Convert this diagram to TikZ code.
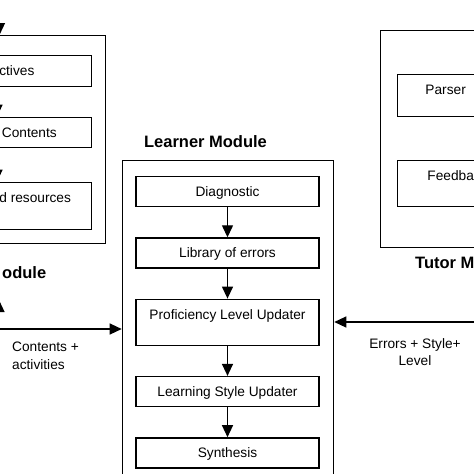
\documentclass[tikz,border=0pt]{standalone}
\usepackage{fontspec}
\setmainfont{Liberation Sans}
\usetikzlibrary{positioning,arrows.meta}

\tikzset{
  modbox/.style={draw, line width=1.3pt, inner sep=0pt},
  subbox/.style={draw, line width=1.3pt, inner sep=0pt, text height=20pt, text depth=10pt},
  tallbox/.style={subbox, text depth=26pt},
  arr/.style={line width=1.3pt, -{Triangle[length=12pt,width=11pt]}},
  title/.style={font=\fontsize{16.5pt}{19pt}\selectfont\bfseries, inner sep=0pt},
  note/.style={align=center, inner sep=0pt}
}

\begin{document}
\begin{tikzpicture}[x=1pt, y=-1pt, font=\fontsize{13.7pt}{17.5pt}\selectfont]
\useasboundingbox (0,0) rectangle (474,474);
\clip (0,0) rectangle (474,474);

% left module, cut by the border
\node[modbox, minimum width=200pt, minimum height=208pt, anchor=north east] (domain) at (106,35) {};
\node[subbox, minimum width=149pt, text depth=11pt, anchor=north east] (obj) at (92,55) {ctives};
\node[subbox, minimum width=124pt, anchor=north east] (cont) at (92,116.7) {Contents};
\node[subbox, minimum width=112.4pt, text depth=27pt, anchor=north east] (res) at (92,181.7) {d resources};
\node[title, anchor=base west] (domtitle) at (2,278) {odule};

\coordinate (dx) at (-3,0);
\coordinate (domin) at (-0.5,0);
\draw[arr] (domin) -- (domin |- domain.north);
\draw[arr] (obj.south -| dx) -- (cont.north -| dx);
\draw[arr] (cont.south -| dx) -- (res.north -| dx);

% learner module
\node[modbox, minimum width=211.3pt, minimum height=330pt, anchor=north west] (learner) at (121.7,160) {};
\node[title, anchor=base] (lrntitle) at (205.5,147) {Learner Module};
\begin{scope}[node distance=30pt, every node/.append style={minimum width=183pt}]
\node[subbox, anchor=north] (diag) at (227.5,176) {Diagnostic};
\node[subbox, below=of diag] (lib) {Library of errors};
\node[tallbox, below=of lib] (prof) {Proficiency Level Updater};
\node[subbox, below=of prof] (style) {Learning Style Updater};
\node[subbox, below=of style] (synth) {Synthesis};
\end{scope}
\draw[arr] (diag) -- (lib);
\draw[arr] (lib) -- (prof);
\draw[arr] (prof) -- (style);
\draw[arr] (style) -- (synth);

% tutor module, cut by the border
\node[modbox, minimum width=150pt, minimum height=216.7pt, anchor=north west] (tutor) at (380,30) {};
\node[subbox, minimum width=96pt, text depth=22pt, anchor=north west] (parser) at (397,74) {Parser};
\node[tallbox, minimum width=106pt, anchor=north west] (feed) at (397,160) {Feedba};
\node[title, anchor=base west] (tuttitle) at (415,268) {Tutor M};

% links into the learner module
\coordinate (cin) at (-20,329);
\coordinate (domup) at (-1,300);
\coordinate (eout) at (500,322);
\draw[arr] (cin) -- (cin -| learner.west);
\draw[arr] (domup |- cin) -- (domup);
\draw[arr] (eout) -- (eout -| learner.east);
\node[note, align=left, anchor=north west] (cinlbl) at (12,342) {Contents +\\activities};
\node[note, anchor=north] (eoutlbl) at (415,338) {Errors + Style+\\Level};
\end{tikzpicture}
\end{document}
